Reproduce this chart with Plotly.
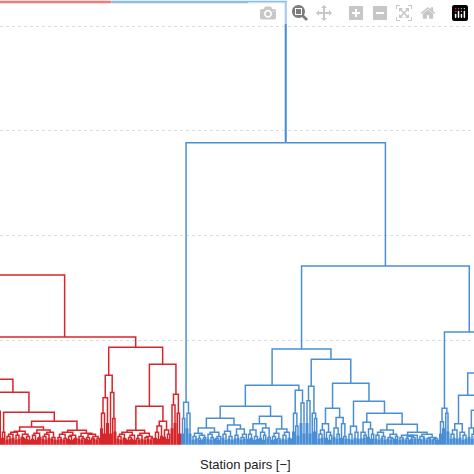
import plotly.graph_objects as go

# ---- data: merge heights (distance units). Tuples are (height, left, right);
# lists are small terminal groups given by their merge heights.
L_big = (1.25, [0.3, 0.15, 0.45, 0.2, 0.1, 0.6, 0.25, 0.12, 0.35, 0.18],
         [0.22, 0.4, 0.1, 0.55, 0.3, 0.15, 0.2, 0.08, 0.42])
Loff = (0.90, [0.12, 0.2, 0.35, 0.1, 0.28, 0.5, 0.15, 0.22, 0.08, 0.3, 0.18, 0.4, 0.14, 0.25, 0.1, 0.2, 0.3, 0.12, 0.16, 0.09],
        [0.1, 0.25, 0.15, 0.38, 0.2, 0.12, 0.45, 0.18, 0.3, 0.1, 0.22, 0.55, 0.14, 0.26, 0.08, 0.33, 0.19, 0.12, 0.24, 0.1, 0.16])
L1 = [0.08, 0.15, 0.1, 0.22, 0.12, 0.3, 0.18, 0.09, 0.42, 0.14, 0.2, 0.1, 0.26, 0.12, 0.35, 0.16, 0.08, 0.19]
L2 = [0.1, 0.18, 0.12, 0.27, 0.09, 0.2, 0.14, 0.32]
L3 = [0.06, 0.12]
A = (0.17, [0.04, 0.08, 0.05, 0.1, 0.06, 0.12, 0.04, 0.09, 0.05, 0.13, 0.07, 0.06, 0.1, 0.05, 0.08, 0.04],
     [0.05, 0.09, 0.04, 0.11, 0.06, 0.07, 0.14, 0.05, 0.08, 0.04, 0.1, 0.06, 0.12, 0.05, 0.07, 0.04])
B = (0.139, [0.04, 0.07, 0.05, 0.1, 0.04, 0.06, 0.12, 0.05, 0.08, 0.04, 0.09, 0.05, 0.06],
     [0.05, 0.08, 0.04, 0.06, 0.11, 0.05, 0.07, 0.04, 0.1, 0.06, 0.05, 0.08, 0.04, 0.06])
N375 = (0.665, [0.15, 0.3, 0.1, 0.45, 0.2], [0.1, 0.5, 0.25, 0.12])
C = (0.139, [0.05, 0.08, 0.04, 0.1, 0.06, 0.05, 0.12, 0.04, 0.07, 0.05, 0.09, 0.04],
     [0.06, 0.04, 0.09, 0.05, 0.11, 0.04, 0.07, 0.05, 0.08, 0.04, 0.06])
D = (0.225, [0.06, 0.12, 0.05, 0.18, 0.08], [0.07, 0.14, 0.05, 0.1])
N394 = (0.483, [0.15, 0.38, 0.2], [0.3, 0.1])

Bthin = (0.407, [0.1, 0.25], [0.15, 0.3, 0.1])
E = (0.254, (0.16, [0.04, 0.08, 0.05, 0.11, 0.06, 0.04, 0.09, 0.05, 0.07], [0.05, 0.1, 0.04, 0.07, 0.12, 0.05, 0.06, 0.04, 0.08]),
     (0.19, [0.06, 0.1, 0.04, 0.13, 0.05, 0.08, 0.04], [0.05, 0.09, 0.06, 0.15, 0.04, 0.07, 0.05, 0.1]))
F = (0.273, (0.2, [0.05, 0.1, 0.06, 0.14, 0.04, 0.08, 0.05], [0.06, 0.12, 0.04, 0.09, 0.16, 0.05, 0.07]),
     (0.15, [0.04, 0.08, 0.05, 0.11, 0.06, 0.04], [0.05, 0.09, 0.04, 0.12, 0.06, 0.05]))
N390 = (0.522, [0.12, 0.3, 0.18, 0.08], [0.2, 0.4, 0.1])
N386 = (0.56, [0.2, 0.42, 0.1], [0.3, 0.12, 0.25])
G = (0.349, (0.2, [0.05, 0.1, 0.06, 0.14], [0.06, 0.12, 0.04, 0.09]),
     (0.26, [0.07, 0.16, 0.05, 0.1], [0.06, 0.2, 0.08, 0.05]))
H = (0.177, [0.05, 0.1, 0.04], [0.06, 0.12, 0.05])
I = (0.215, [0.05, 0.12, 0.06, 0.09], [0.07, 0.15, 0.05, 0.1])
J = (0.196, [0.05, 0.09, 0.04, 0.12, 0.06, 0.08, 0.04, 0.14, 0.05, 0.07, 0.04, 0.06, 0.1, 0.05, 0.08],
     (0.12, [0.04, 0.07, 0.05, 0.09, 0.04, 0.06, 0.08, 0.04, 0.05, 0.07, 0.05, 0.09],
      [0.05, 0.04, 0.08, 0.06, 0.1, 0.04, 0.06, 0.05, 0.07, 0.04, 0.05, 0.06, 0.04]))
S443 = (0.35, [0.1, 0.22, 0.15], [0.3, 0.12])
N395 = (0.474, (0.2, [0.05, 0.1, 0.06, 0.14, 0.05], [0.06, 0.12, 0.04, 0.09, 0.05]),
        (0.33, [0.07, 0.16, 0.05, 0.1, 0.08, 0.06], [0.06, 0.2, 0.08, 0.05, 0.12, 0.04, 0.07]))
K = (0.5, [0.1, 0.2, 0.08, 0.3, 0.12, 0.18, 0.06, 0.25, 0.1, 0.15, 0.08, 0.22, 0.1, 0.35, 0.12, 0.09, 0.2, 0.07, 0.14],
     [0.08, 0.16, 0.1, 0.28, 0.06, 0.2, 0.12, 0.4, 0.09, 0.18, 0.07, 0.24, 0.11, 0.15, 0.06, 0.3, 0.1, 0.13, 0.08])

N412 = (0.311, L3, (0.225, A, B))
N392 = (0.502, L2, N412)
Nleft = (0.627, L1, N392)
N364 = (0.77, (0.368, C, D), N394)
N347 = (0.933, N375, N364)
N337 = (1.029, Nleft, N347)
N275 = (1.622, Loff, N337)
red_root = (2.30, L_big, N275)

N413 = (0.301, I, J)
N401 = (0.416, H, N413)
N383 = (0.589, G, N401)
N359 = (0.818, N386, N383)
N385 = (0.569, (0.368, E, F), N390)
N349 = (0.914, N385, N359)
N373 = (0.685, N395, K)
Nright = (1.077, S443, N373)
N266 = (1.708, N349, Nright)
blue_root = (2.885, Bthin, N266)
root_height = 4.23

RED = "#d7262b"
BLUE = "#4a8fd6"


def expand(node):
    if isinstance(node, tuple):
        return (node[0], expand(node[1]), expand(node[2]))
    hs = list(node)
    if not hs:
        return None
    i = max(range(len(hs)), key=lambda k: hs[k])
    return (hs[i], expand(hs[:i]), expand(hs[i + 1:]))


counter = [0]


def layout(node, segs):
    if node is None:
        x = counter[0]
        counter[0] += 1
        return x, 0.0
    h, l, r = node
    xl, hl = layout(l, segs)
    xr, hr = layout(r, segs)
    segs[0] += [xl, xl, xr, xr, None]
    segs[1] += [hl, h, h, hr, None]
    return (xl + xr) / 2, h


red_segs = [[], []]
xr_red, hr_red = layout(expand(red_root), red_segs)
n_red = counter[0]
blue_segs = [[], []]
xr_blue, hr_blue = layout(expand(blue_root), blue_segs)
xmid = (xr_red + xr_blue) / 2

fig = go.Figure()
fig.add_trace(go.Scatter(x=red_segs[0], y=red_segs[1], mode="lines",
                         line=dict(color=RED, width=1.5), hoverinfo="skip"))
fig.add_trace(go.Scatter(x=blue_segs[0], y=blue_segs[1], mode="lines",
                         line=dict(color=BLUE, width=1.5), hoverinfo="skip"))
fig.add_trace(go.Scatter(x=[xr_red, xr_red, xmid], y=[hr_red, root_height, root_height], mode="lines",
                         line=dict(color="#f07a7a", width=2.5), hoverinfo="skip"))
fig.add_trace(go.Scatter(x=[xmid, xr_blue, xr_blue], y=[root_height, root_height, hr_blue], mode="lines",
                         line=dict(color="#8fbde8", width=2.5), hoverinfo="skip"))
fig.add_trace(go.Scatter(x=[xr_blue, xr_blue], y=[root_height, hr_blue], mode="lines",
                         line=dict(color=BLUE, width=1.5), hoverinfo="skip"))

px = 1.5  # pixels per leaf
boundary = n_red - 0.5
fig.update_layout(
    width=474, height=474, showlegend=False,
    margin=dict(l=0, r=0, t=0, b=24),
    plot_bgcolor="white", paper_bgcolor="white",
    xaxis=dict(range=[boundary - 181 / px, boundary + 293 / px], showgrid=False,
               showticklabels=False, zeroline=False, ticks=""),
    yaxis=dict(range=[-0.05, 4.25], tickvals=[1, 2, 3, 4], showgrid=True,
               gridcolor="#dddddd", griddash="dot", gridwidth=1,
               showticklabels=False, zeroline=False, ticks=""),
    annotations=[dict(text="Station pairs [\u2212]", x=0.517, y=-0.01, xref="paper", yref="paper",
                      xanchor="center", yanchor="top", showarrow=False,
                      font=dict(family="Liberation Sans, Arial", size=13, color="#222"))],
)
fig.write_html("out.html", post_script="document.body.style.margin='0';document.body.style.overflow='hidden';")
